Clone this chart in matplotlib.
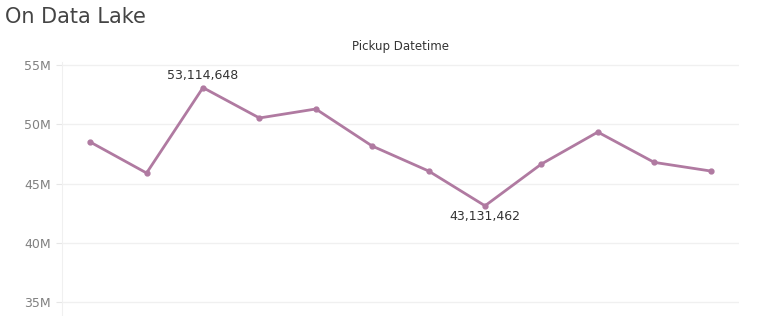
import matplotlib.pyplot as plt
from matplotlib.ticker import FuncFormatter

# monthly pickups
months = ['Jan', 'Feb', 'Mar', 'Apr', 'May', 'Jun',
          'Jul', 'Aug', 'Sep', 'Oct', 'Nov', 'Dec']
pickups = [48.52e6, 45.90e6, 53114648, 50.55e6, 51.31e6, 48.18e6,
           46.07e6, 43131462, 46.66e6, 49.36e6, 46.80e6, 46.07e6]
yticks = [35e6, 40e6, 45e6, 50e6, 55e6]

fig = plt.figure(figsize=(7.68, 3.16), dpi=100)
ax = fig.add_axes([0.0807, 0.0, 0.8813, 0.8038])

x = list(range(len(months)))
ax.plot(x, pickups, color='#b07aa1', linewidth=2.0, marker='o', markersize=3.5,
        solid_capstyle='round', zorder=3)

# label max and min
imax = pickups.index(max(pickups))
imin = pickups.index(min(pickups))
ax.annotate('{:,}'.format(int(pickups[imax])), (imax, pickups[imax]),
            xytext=(0, 4), textcoords='offset points', ha='center', va='bottom',
            fontsize=9, color='#333333')
ax.annotate('{:,}'.format(int(pickups[imin])), (imin, pickups[imin]),
            xytext=(0, -3), textcoords='offset points', ha='center', va='top',
            fontsize=9, color='#333333')

ax.set_xlim(-0.5, 11.5)
ax.set_ylim(33.82e6, 55.28e6)
ax.set_yticks(yticks)
ax.yaxis.set_major_formatter(FuncFormatter(lambda v, p: '%dM' % round(v / 1e6)))
ax.set_xticks([])
ax.tick_params(axis='y', length=4, color='#e6e6e6', labelsize=9,
               labelcolor='#808080', pad=4)
ax.grid(axis='y', color='#f0f0f0', linewidth=1)
ax.set_axisbelow(True)
for s in ['top', 'right', 'bottom']:
    ax.spines[s].set_visible(False)
ax.spines['left'].set_color('#f0f0f0')

fig.text(0.0065, 0.945, 'On Data Lake', fontsize=15, color='#444444',
         ha='left', va='center')
fig.text(0.521, 0.852, 'Pickup Datetime', fontsize=8.5, color='#333333',
         ha='center', va='center')

plt.savefig('out.png', dpi=100)
